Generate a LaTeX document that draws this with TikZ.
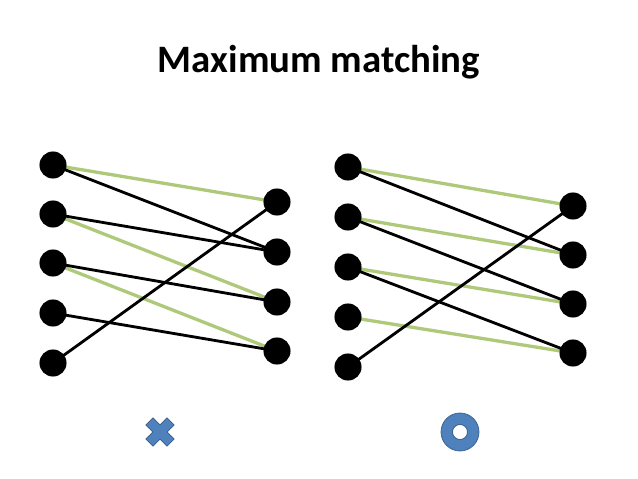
\documentclass[tikz,border=0pt]{standalone}
\usepackage{fontspec}
\setmainfont{Carlito}
\usetikzlibrary{calc,backgrounds}

\definecolor{matchgreen}{RGB}{155,187,89}
\definecolor{markblue}{RGB}{79,129,189}
\definecolor{markedge}{RGB}{56,93,138}
\tikzset{
    vtx/.style={circle,fill=black,inner sep=0pt,minimum size=23pt},
    edge/.style={line width=2.4pt,black},
    medge/.style={line width=2.8pt,matchgreen!80},
}

\begin{document}
\begin{tikzpicture}[x=0.85pt,y=-0.85pt]
    \useasboundingbox (0,0) rectangle (638,479);
    \node (title) at (319,62) {\fontsize{33}{38}\selectfont\bfseries Maximum matching};
    % left graph
    \foreach \i/\y in {1/165,2/214,3/263,4/313,5/363}
        \node [vtx] (a\i) at (53,\y) {};
    \foreach \i/\y in {1/202,2/252,3/302,4/351}
        \node [vtx] (b\i) at (277,\y) {};
    % right graph
    \foreach \i/\y in {1/167,2/217,3/267,4/317,5/367}
        \node [vtx] (c\i) at (348,\y) {};
    \foreach \i/\y in {1/206,2/255,3/304,4/353}
        \node [vtx] (d\i) at (573,\y) {};
    \begin{scope}[on background layer]
    \foreach \u/\v in {a1/b1,a2/b3,a3/b4,c1/d1,c2/d2,c3/d3,c4/d4}
        \draw [medge] (\u.center) -- (\v.center);
    \foreach \u/\v in {a1/b2,a2/b2,a3/b3,a4/b4,a5/b1,c1/d2,c2/d3,c3/d4,c5/d1}
        \draw [edge] (\u.center) -- (\v.center);
    \end{scope}
    % marks
    \coordinate (bad) at (160,432);
    \coordinate (good) at (460,432);
    \draw [markedge,fill=markblue,line width=0.6pt,rotate around={45:(bad)}]
        ($(bad)+(-5,-15)$) -- ($(bad)+(5,-15)$) -- ($(bad)+(5,-5)$) -- ($(bad)+(15,-5)$)
        -- ($(bad)+(15,5)$) -- ($(bad)+(5,5)$) -- ($(bad)+(5,15)$) -- ($(bad)+(-5,15)$)
        -- ($(bad)+(-5,5)$) -- ($(bad)+(-15,5)$) -- ($(bad)+(-15,-5)$) -- ($(bad)+(-5,-5)$) -- cycle;
    \draw [markedge,fill=markblue,line width=0.6pt,even odd rule]
        (good) circle (19) (good) circle (7.5);
\end{tikzpicture}
\end{document}
